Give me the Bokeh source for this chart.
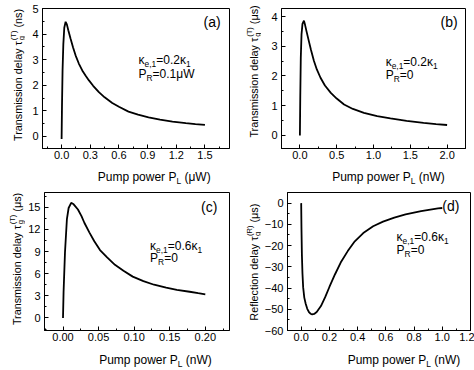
import math
from bokeh.plotting import figure
from bokeh.models import Label, Range1d, SingleIntervalTicker, NumeralTickFormatter
from bokeh.layouts import column, row
from bokeh.embed import file_html
from bokeh.resources import INLINE

# ---------------- data ----------------
a_x = [0, 0.004, 0.01, 0.018, 0.028, 0.042, 0.055, 0.07, 0.094, 0.12, 0.146, 0.18, 0.216, 0.25,
       0.286, 0.33, 0.39, 0.45, 0.53, 0.6, 0.7, 0.8, 0.91, 1.03, 1.16, 1.3, 1.4, 1.5]
a_y = [-0.1, 1.2, 2.6, 3.6, 4.25, 4.48, 4.38, 4.15, 3.82, 3.48, 3.17, 2.85, 2.58, 2.38,
       2.19, 1.98, 1.73, 1.53, 1.31, 1.16, 0.97, 0.85, 0.75, 0.66, 0.58, 0.52, 0.48, 0.45]

b_x = [0, 0.005, 0.012, 0.022, 0.035, 0.055, 0.07, 0.09, 0.12, 0.15, 0.19, 0.23, 0.28, 0.34,
       0.42, 0.5, 0.6, 0.72, 0.87, 1.05, 1.23, 1.45, 1.68, 1.85, 2.0]
b_y = [0, 1.3, 2.6, 3.4, 3.75, 3.86, 3.72, 3.5, 3.19, 2.88, 2.51, 2.22, 1.94, 1.68,
       1.43, 1.24, 1.04, 0.89, 0.76, 0.65, 0.57, 0.49, 0.42, 0.38, 0.35]

c_x = [0, 0.0008, 0.0028, 0.0055, 0.0079, 0.0115, 0.015, 0.021, 0.026, 0.030, 0.037, 0.044,
       0.052, 0.062, 0.073, 0.085, 0.098, 0.113, 0.128, 0.145, 0.16, 0.178, 0.19, 0.2]
c_y = [0, 3.5, 8.9, 13.4, 14.9, 15.6, 15.4, 14.7, 13.8, 12.9, 11.6, 10.4,
       9.2, 8.2, 7.2, 6.4, 5.6, 5.0, 4.5, 4.1, 3.8, 3.55, 3.35, 3.2]

d_x = [0, 0.002, 0.005, 0.009, 0.014, 0.022, 0.032, 0.043, 0.055, 0.066, 0.078, 0.092, 0.11,
       0.14, 0.17, 0.2, 0.24, 0.28, 0.33, 0.38, 0.44, 0.51, 0.58, 0.66, 0.74, 0.85, 0.97, 1.0]
d_y = [0, -12, -24.2, -33, -39.7, -44.5, -47.4, -49.8, -51.3, -52.1, -52.4, -52.2, -51.3,
       -48.5, -44.3, -39.5, -33.5, -28, -22.6, -18, -14.1, -10.9, -8.7, -6.8, -5.3, -3.8, -2.5, -2.3]

FONT = "Liberation Sans"

# Arial/Liberation Sans advance widths (per 1000 em)
W = {' ': 278, '(': 333, ')': 333, ',': 278, '.': 278, '=': 584, '-': 333,
     'μ': 576, 'τ': 440, 'κ': 500}
for ch in '0123456789':
    W[ch] = 556
W.update({'A': 667, 'B': 667, 'C': 722, 'D': 722, 'E': 667, 'F': 611, 'G': 778, 'H': 722,
          'I': 278, 'J': 500, 'K': 667, 'L': 556, 'M': 833, 'N': 722, 'O': 778, 'P': 667,
          'Q': 778, 'R': 722, 'S': 667, 'T': 611, 'U': 722, 'V': 667, 'W': 944, 'X': 667,
          'Y': 667, 'Z': 611, 'a': 556, 'b': 556, 'c': 500, 'd': 556, 'e': 556, 'f': 278,
          'g': 556, 'h': 556, 'i': 222, 'j': 222, 'k': 500, 'l': 222, 'm': 833, 'n': 556,
          'o': 556, 'p': 556, 'q': 556, 'r': 333, 's': 500, 't': 278, 'u': 556, 'v': 500,
          'w': 722, 'x': 500, 'y': 500, 'z': 500})

SUB = 0.7
MID = 0.35   # distance from baseline to the 'middle' anchor, in em


def tw(s, size):
    return sum(W.get(c, 556) for c in s) * size / 1000.0


def piece_width(pc, size):
    kind = pc[0]
    if kind == 'n':
        return tw(pc[1], size)
    if kind in ('sub', 'sup'):
        return tw(pc[1], size * SUB)
    return max(tw(pc[1], size * SUB), tw(pc[2], size * SUB))


def rich_width(pieces, size):
    return sum(piece_width(pc, size) for pc in pieces)


def add_text(p, x, y, units, text, size, xo, yo, angle=0.0):
    p.add_layout(Label(x=x, y=y, x_units=units, y_units=units, x_offset=xo, y_offset=yo,
                       text=text, text_font=FONT, text_font_size=f"{size:.2f}px",
                       text_color="black", text_align="left", text_baseline="middle",
                       angle=angle))


def rich(p, pieces, x, y, units, size, start=0.0, vertical=False):
    """(x, y) is the baseline start; pieces run along the text direction."""
    adv = start
    for pc in pieces:
        kind = pc[0]
        parts = []
        if kind == 'n':
            parts.append((pc[1], size, 0.0))
        elif kind == 'sub':
            parts.append((pc[1], size * SUB, -0.22 * size))
        elif kind == 'sup':
            parts.append((pc[1], size * SUB, 0.45 * size))
        else:
            parts.append((pc[1], size * SUB, -0.22 * size))
            parts.append((pc[2], size * SUB, 0.45 * size))
        for txt, sz, shift in parts:
            stripped = txt.lstrip(' ')
            lead = tw(txt[:len(txt) - len(stripped)], sz)
            up = shift + MID * sz
            if vertical:
                add_text(p, x, y, units, stripped, sz, -up, adv + lead, angle=math.pi / 2)
            else:
                add_text(p, x, y, units, stripped, sz, adv + lead, up)
        adv += piece_width(pc, size)


def blank_fig(width, height):
    p = figure(width=width, height=height, output_backend="svg", toolbar_location=None,
               tools="", x_range=Range1d(0, width), y_range=Range1d(0, height),
               x_axis_type=None, y_axis_type=None,
               min_border_left=0, min_border_right=0, min_border_top=0, min_border_bottom=0)
    p.outline_line_color = None
    p.background_fill_color = "white"
    p.border_fill_color = "white"
    return p


def make_fig(width, height, bl, br, bt, bb, xr, yr, xint, yint, xfmt):
    p = figure(width=width, height=height, output_backend="svg", toolbar_location=None,
               tools="", x_range=Range1d(*xr), y_range=Range1d(*yr),
               min_border_left=bl, min_border_right=br, min_border_top=bt, min_border_bottom=bb)
    p.xgrid.visible = False
    p.ygrid.visible = False
    p.outline_line_color = "black"
    p.outline_line_alpha = 1.0
    p.outline_line_width = 1
    p.background_fill_color = "white"
    p.border_fill_color = "white"
    p.xaxis.ticker = SingleIntervalTicker(interval=xint, num_minor_ticks=2)
    p.yaxis.ticker = SingleIntervalTicker(interval=yint, num_minor_ticks=2)
    p.xaxis.formatter = NumeralTickFormatter(format=xfmt)
    for ax in (p.xaxis[0], p.yaxis[0]):
        ax.axis_line_color = "black"
        ax.major_tick_line_color = "black"
        ax.minor_tick_line_color = "black"
        ax.major_tick_in = 4
        ax.major_tick_out = 0
        ax.minor_tick_in = 2
        ax.minor_tick_out = 0
        ax.major_label_text_font = FONT
        ax.major_label_text_font_size = "11px"
        ax.major_label_text_color = "black"
    p.xaxis.major_label_standoff = 2
    p.yaxis.major_label_standoff = 4
    return p


YL = 10.8   # y label font size
XL = 12.0   # x label font size
AN = 12.0   # annotation font size
PL = 14.0   # panel letter size


def ylabel(kind, unit):
    return [('n', "Transmission delay τ" if kind == 'T' else "Reflection delay τ"),
            ('stack', 'g', f'({kind})'), ('n', f" ({unit})")]


def xlabel(unit):
    return [('n', "Pump power P"), ('sub', 'L'), ('n', f" ({unit})")]


def panel(plot, ylab_w, xlab_h, total_h, ylab, ybase, ycenter, xlab, xbase, xcenter,
          kappa, kx, ky, pr, prx, pry, letter, lx, ly):
    # annotations inside the frame (data units, baseline positions)
    rich(plot, kappa, kx, ky, "data", AN)
    rich(plot, pr, prx, pry, "data", AN)
    rich(plot, [('n', letter)], lx, ly, "data", PL)
    # y label strip (screen units from the strip's bottom-left)
    fy = blank_fig(ylab_w, total_h)
    L = rich_width(ylab, YL)
    rich(fy, ylab, ybase, 0, "screen", YL, start=ycenter - L / 2, vertical=True)
    # x label strip
    fx = blank_fig(plot.width, xlab_h)
    Lx = rich_width(xlab, XL)
    rich(fx, xlab, 0, xbase, "screen", XL, start=xcenter - Lx / 2)
    return row(fy, column(plot, fx))


KAPPA2 = [('n', 'κ'), ('sub', 'e,1'), ('n', '=0.2κ'), ('sub', '1')]
KAPPA6 = [('n', 'κ'), ('sub', 'e,1'), ('n', '=0.6κ'), ('sub', '1')]
PR0 = [('n', 'P'), ('sub', 'R'), ('n', '=0')]

# ---------------- panel (a) ----------------
pa = make_fig(212, 166, 17, 8, 8, 18, (-0.2, 1.757), (-0.47, 5.0), 0.3, 1, "0.0")
pa.line(a_x, a_y, line_color="black", line_width=1.8)
A = panel(pa, 25, 20, 186, ylabel('T', 'ns'), 21, 111.5, xlabel('μW'), 5, 111.7,
          KAPPA2, 0.805, 2.82,
          [('n', 'P'), ('sub', 'R'), ('n', '=0.1μW')], 0.805, 2.28,
          "(a)", 1.485, 4.3)

# ---------------- panel (b) ----------------
pb = make_fig(213, 166, 20, 9, 8, 18, (-0.25, 2.25), (-0.44, 4.27), 0.5, 1, "0.0")
pb.line(b_x, b_y, line_color="black", line_width=1.8)
B = panel(pb, 24, 20, 186, ylabel('T', 'μs'), 20, 115, xlabel('nW'), 5, 107,
          KAPPA2, 1.165, 2.32, PR0, 1.165, 1.9, "(b)", 1.91, 3.66)

# ---------------- panel (c) ----------------
pc = make_fig(212, 162, 17, 8, 6, 18, (-0.026, 0.234), (-1.7, 17.0), 0.05, 3, "0.00")
pc.line(c_x, c_y, line_color="black", line_width=1.8)
C = panel(pc, 25, 21, 183, ylabel('T', 'μs'), 20, 110.5, xlabel('nW'), 5, 111,
          KAPPA6, 0.1224, 9.2, PR0, 0.1224, 7.5, "(c)", 0.194, 14.4)

# ---------------- panel (d) ----------------
pd = make_fig(213, 162, 20, 4, 6, 18, (-0.097, 1.2001), (-60.0, 5.0), 0.2, 10, "0.0")
pd.line(d_x, d_y, line_color="black", line_width=1.8)
D = panel(pd, 24, 21, 183, ylabel('R', 'μs'), 20, 107.3, xlabel('nW'), 5, 116.5,
          KAPPA6, 0.676, -18.1, PR0, 0.676, -23.9, "(d)", 1.0, -3.9)

layout = column(row(A, B), row(C, D))

with open("out.html", "w") as f:
    f.write(file_html(layout, INLINE))
